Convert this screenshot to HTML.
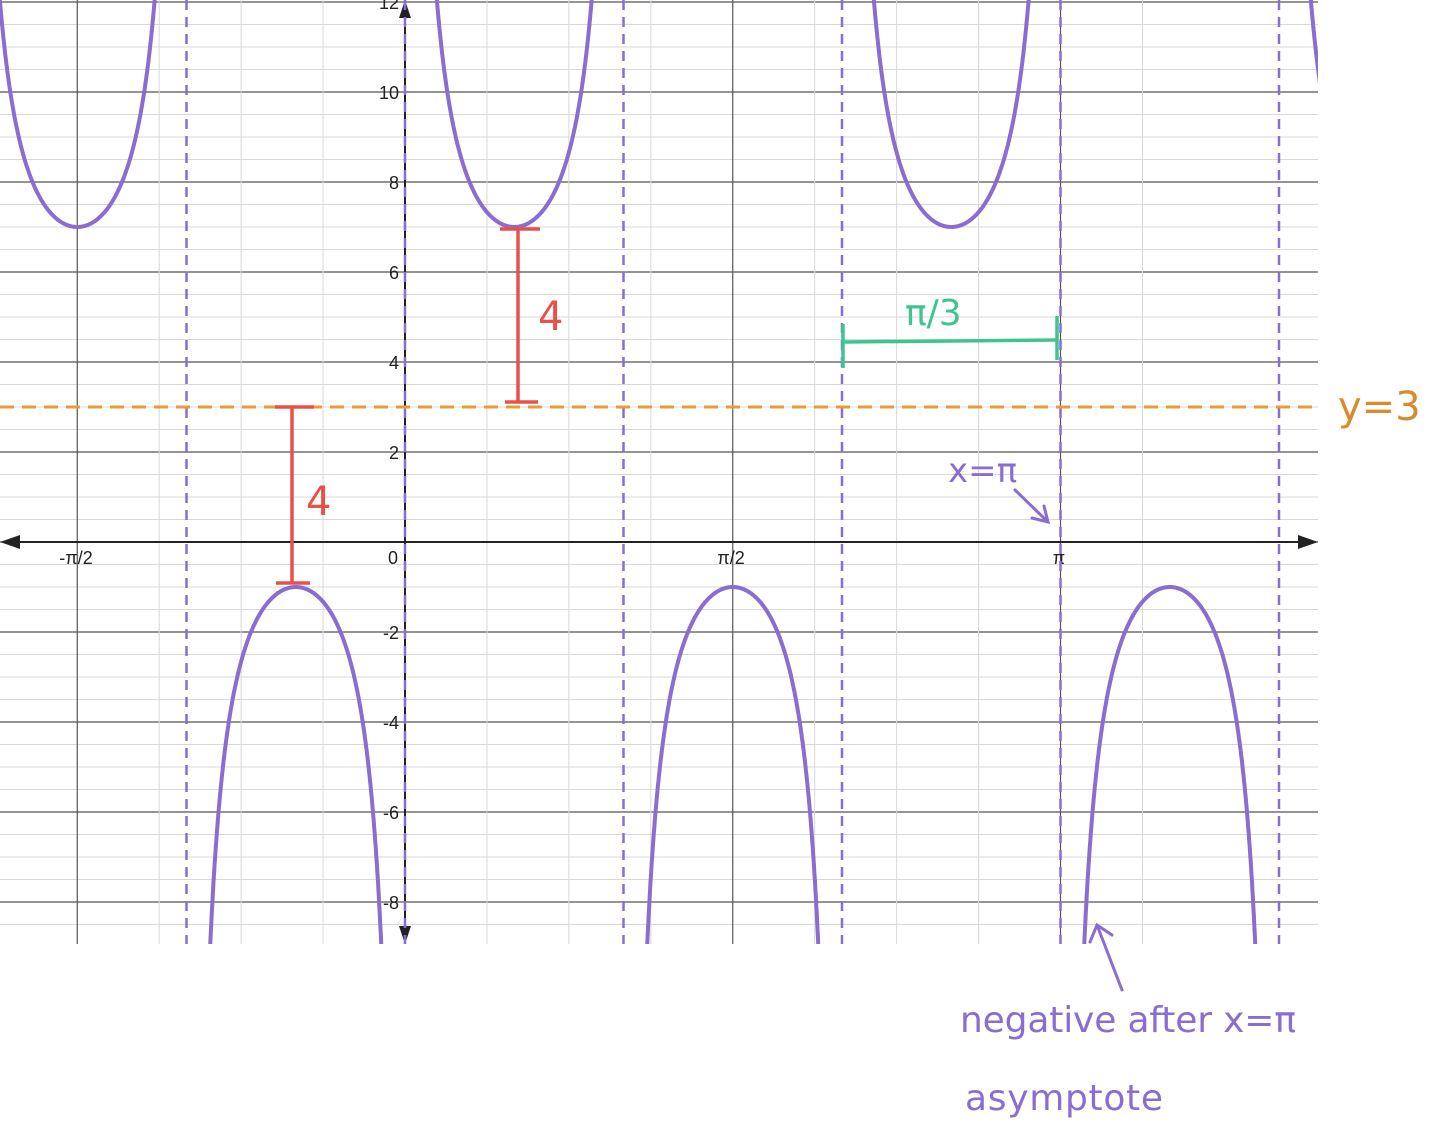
<!DOCTYPE html>
<html><head><meta charset="utf-8"><style>
html,body{margin:0;padding:0;background:#fff;}
svg{display:block;}
text{font-family:"Liberation Sans",sans-serif;}
.h{font-family:"DejaVu Sans","Liberation Sans",sans-serif;}
</style></head><body>
<svg id="s" width="1430" height="1128" xmlns="http://www.w3.org/2000/svg">
<defs><clipPath id="c"><rect x="0" y="0" width="1318" height="944"/></clipPath></defs>
<g id="grid"></g>
<g id="axes"></g>
<g id="curves" clip-path="url(#c)"></g>
<line x1="0" y1="407" x2="1318" y2="407" stroke="#eb9a3a" stroke-width="3" stroke-dasharray="14,8"/>
<text x="1338" y="420" fill="#d98a2a" font-size="40" class="h">y=3</text>
<g stroke="#e8504a" stroke-width="3.5" fill="none">
<line x1="292" y1="407" x2="292" y2="583"/><line x1="275" y1="407" x2="314" y2="407"/><line x1="276" y1="583" x2="310" y2="583"/>
<line x1="518" y1="229" x2="518" y2="402"/><line x1="500" y1="229" x2="540" y2="229"/><line x1="505" y1="402" x2="538" y2="402"/>
</g>
<text x="306" y="515" fill="#e8504a" font-size="40" class="h">4</text>
<text x="538" y="330" fill="#e8504a" font-size="40" class="h">4</text>
<g stroke="#3ec48e" stroke-width="3.5"><line x1="843" y1="342" x2="1057" y2="340"/><line x1="843" y1="324" x2="843" y2="368"/><line x1="1057" y1="316" x2="1057" y2="360"/></g>
<text x="905" y="325" fill="#3ec48e" font-size="36" class="h">π/3</text>
<text x="948" y="482" fill="#8a6dd0" font-size="34" class="h">x=π</text>
<g stroke="#8a6dd0" stroke-width="3" fill="none" stroke-linecap="round">
<path d="M1015,490 L1048,522 M1032,518 L1048,522 L1044,506"/>
<path d="M1122,990 L1097,925 M1090,942 L1097,925 L1112,935"/>
</g>
<text x="960" y="1032" fill="#8a6dd0" font-size="36" class="h" textLength="336">negative after x=π</text>
<text x="965" y="1110" fill="#8a6dd0" font-size="36" class="h" textLength="198">asymptote</text>
</svg>
<script>
var NS="http://www.w3.org/2000/svg";
function el(p,t,a,txt){var e=document.createElementNS(NS,t);for(var k in a)e.setAttribute(k,a[k]);if(txt!==undefined)e.textContent=txt;document.getElementById(p).appendChild(e);return e;}
var K=655.5/Math.PI;function px(x){return 405+x*K;}function py(y){return 542-45*y;}
for(var n=-18;n<=25;n++){var v=n/2;var y=py(v);if(y<0||y>944)continue;var maj=(n%4==0);
el("grid","line",{x1:0,x2:1318,y1:y,y2:y,stroke:maj?"#555":"#d8d8d8","stroke-width":maj?1.2:1});}
for(var i=-4;i<=9;i++){var x=px(i*Math.PI/8);if(x<0||x>1318)continue;var maj=i%4==0;
el("grid","line",{x1:x,x2:x,y1:0,y2:944,stroke:maj?"#555":"#d8d8d8","stroke-width":maj?1.2:1});}
el("axes","line",{x1:8,x2:1310,y1:542,y2:542,stroke:"#222","stroke-width":2});
el("axes","path",{d:"M0,542 L20,535 L20,549Z M1318,542 L1298,535 L1298,549Z M405,0 L399,18 L411,18Z M405,944 L399,926 L411,926Z",fill:"#222"});
el("axes","line",{x1:405,x2:405,y1:5,y2:940,stroke:"#222","stroke-width":2});
[12,10,8,6,4,2,-2,-4,-6,-8].forEach(function(v){el("axes","text",{x:399,y:py(v)+7,"text-anchor":"end","font-size":18,fill:"#222"},String(v));});
el("axes","text",{x:398,y:564,"text-anchor":"end","font-size":18,fill:"#222"},"0");
el("axes","text",{x:76,y:564,"text-anchor":"middle","font-size":18,fill:"#222"},"-π/2");
el("axes","text",{x:731,y:564,"text-anchor":"middle","font-size":18,fill:"#222"},"π/2");
el("axes","text",{x:1059,y:564,"text-anchor":"middle","font-size":18,fill:"#222"},"π");
for(var k=-1;k<=4;k++){var x=px(k*Math.PI/3);el("curves","line",{x1:x,x2:x,y1:0,y2:944,stroke:"#8a6dd0","stroke-width":2.5,"stroke-dasharray":"10,7"});}
for(var k=-2;k<=4;k++){var a=k*Math.PI/3,b=(k+1)*Math.PI/3,d="",st=true;
for(var j=1;j<600;j++){var x=a+(b-a)*j/600;var c=Math.cos(3*x-Math.PI/2);var y=3+4/c;var Y=py(y);
if(Y<-30||Y>980){st=true;continue;}d+=(st?"M":"L")+px(x).toFixed(1)+","+Y.toFixed(1);st=false;}
el("curves","path",{d:d,fill:"none",stroke:"#8a6dd0","stroke-width":4});}
</script>
</body></html>
